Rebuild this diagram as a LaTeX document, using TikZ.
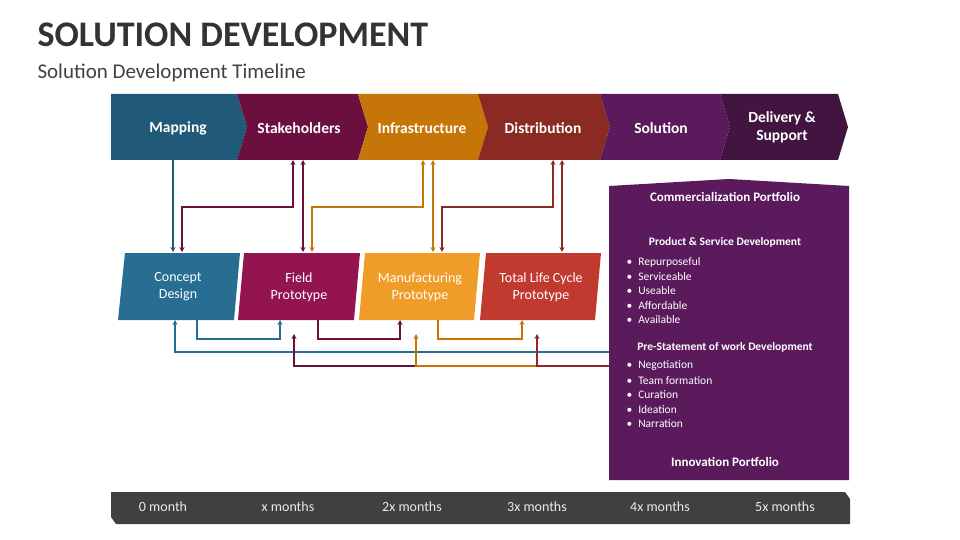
\documentclass[tikz,border=0pt]{standalone}
\usepackage{fontspec}
\setmainfont{Carlito}
\usetikzlibrary{arrows.meta}
\definecolor{cA}{HTML}{215A78}\definecolor{bA}{HTML}{286D92}
\definecolor{cB}{HTML}{6B0F3E}\definecolor{bB}{HTML}{93144F}
\definecolor{cC}{HTML}{C67608}\definecolor{bC}{HTML}{F09C28}
\definecolor{cD}{HTML}{8A2A22}\definecolor{bD}{HTML}{C03A30}
\definecolor{cE}{HTML}{5A1A5C}\definecolor{cF}{HTML}{421541}
\definecolor{bar}{HTML}{404040}
\begin{document}
\begin{tikzpicture}[x=1pt,y=-1pt,
 lbl/.style={text=white,font=\bfseries\fontsize{15.5}{18}\selectfont,align=center},
 blbl/.style={text=white,font=\fontsize{14}{17}\selectfont,align=center},
 con/.style={line width=1.4pt,-{Stealth[length=5pt,width=5pt]}},
 dcon/.style={line width=1.4pt,{Stealth[length=5pt,width=5pt]}-{Stealth[length=5pt,width=5pt]}},
 ptxt/.style={text=white,font=\bfseries\fontsize{13}{15}\selectfont},
 psub/.style={text=white,font=\bfseries\fontsize{11.5}{13}\selectfont},
 pitem/.style={text=white,font=\fontsize{11.5}{13}\selectfont,anchor=west}]
\useasboundingbox (0,0) rectangle (960,540);
\node[anchor=west,font=\bfseries\fontsize{36}{40}\selectfont,text=black!80] (title) at (34,35) {SOLUTION DEVELOPMENT};
\node[anchor=west,font=\fontsize{21}{24}\selectfont,text=black!75] (sub) at (34,73) {Solution Development Timeline};
% chevrons
\fill[cA] (111,94) -- (237,94) -- (247,127) -- (237,160) -- (111,160) -- cycle;
\fill[cB] (237,94) -- (358,94) -- (368,127) -- (358,160) -- (237,160) -- (247,127) -- cycle;
\fill[cC] (358,94) -- (478,94) -- (488,127) -- (478,160) -- (358,160) -- (368,127) -- cycle;
\fill[cD] (478,94) -- (600,94) -- (610,127) -- (600,160) -- (478,160) -- (488,127) -- cycle;
\fill[cE] (600,94) -- (720,94) -- (730,127) -- (720,160) -- (600,160) -- (610,127) -- cycle;
\fill[cF] (720,94) -- (838,94) -- (848,127) -- (838,160) -- (720,160) -- (730,127) -- cycle;
\node[lbl] (h1) at (178,128) {Mapping};
\node[lbl] (h2) at (299,128) {Stakeholders};
\node[lbl] (h3) at (422,128) {Infrastructure};
\node[lbl] (h4) at (543,128) {Distribution};
\node[lbl] (h5) at (661,128) {Solution};
\node[lbl] (h6) at (782,127) {Delivery \&\\Support};
% boxes
\fill[bA] (125,253) -- (240,253) -- (234,320) -- (118,320) -- cycle;
\fill[bB] (244,253) -- (360,253) -- (354,320) -- (238,320) -- cycle;
\fill[bC] (365,253) -- (480,253) -- (474,320) -- (359,320) -- cycle;
\fill[bD] (486,253) -- (601,253) -- (595,320) -- (480,320) -- cycle;
\node[blbl] (b1) at (178,287) {Concept\\Design};
\node[blbl] (b2) at (299,287) {Field\\Prototype};
\node[blbl] (b3) at (420,287) {Manufacturing\\Prototype};
\node[blbl] (b4) at (541,287) {Total Life Cycle\\Prototype};
% panel
\fill[cE] (609,186) -- (729,179) -- (849,186) -- (849,480) -- (609,480) -- cycle;
\node[ptxt] (p1) at (725,197) {Commercialization Portfolio};
\node[psub] (p2) at (725,242) {Product \& Service Development};
\foreach \t [count=\i] in {Repurposeful,Serviceable,Useable,Affordable,Available}
  \node[pitem] (pa\i) at (623,262+14.5*\i-14.5) {\textbullet\hspace{6pt}\t};
\node[psub] (p3) at (725,347) {Pre-Statement of work Development};
\foreach \t [count=\i] in {Negotiation,Team formation,Curation,Ideation,Narration}
  \node[pitem] (pb\i) at (623,366+14.5*\i-14.5) {\textbullet\hspace{6pt}\t};
\node[ptxt] (p4) at (725,462) {Innovation Portfolio};
% bottom bar
\fill[bar] (111,492) -- (845,492) -- (850,499) -- (850,524) -- (116,524) -- (111,517) -- cycle;
\foreach \t/\x [count=\i] in {0 month/163,x months/288,2x months/412,3x months/537,4x months/660,5x months/785}
  \node[text=white!92!black,font=\fontsize{14}{16}\selectfont] (m\i) at (\x,507) {\t};
% top connectors
\coordinate (t1) at (173,160); \coordinate (e1) at (173,252);
\draw[con,cA] (t1) -- (e1);
\coordinate (t2) at (293,160); \coordinate (e2) at (182,252);
\draw[dcon,cB] (e2) |- (237,207) -| (t2);
\coordinate (t3) at (303,160); \coordinate (e3) at (303,252);
\draw[dcon,cB] (t3) -- (e3);
\coordinate (t4) at (423,160); \coordinate (e4) at (312,252);
\draw[dcon,cC] (e4) |- (360,207) -| (t4);
\coordinate (t5) at (433,160); \coordinate (e5) at (433,252);
\draw[dcon,cC] (t5) -- (e5);
\coordinate (t6) at (553,160); \coordinate (e6) at (442,252);
\draw[dcon,cD] (e6) |- (500,207) -| (t6);
\coordinate (t7) at (562,160); \coordinate (e7) at (562,252);
\draw[dcon,cD] (t7) -- (e7);
% bottom connectors
\coordinate (s1) at (197,320); \coordinate (f1) at (280,320);
\draw[con,bA] (s1) |- (240,339) -| (f1);
\coordinate (s2) at (318,320); \coordinate (f2) at (400,320);
\draw[con,cB] (s2) |- (360,339) -| (f2);
\coordinate (s3) at (438,320); \coordinate (f3) at (522,320);
\draw[con,cC] (s3) |- (480,339) -| (f3);
\coordinate (r1) at (609,352); \coordinate (g1) at (175,320);
\draw[con,bA] (r1) -| (g1);
\coordinate (r2) at (416,366); \coordinate (g2) at (294,334);
\draw[con,cB] (r2) -| (g2);
\coordinate (r3) at (537,366); \coordinate (g3) at (416,334);
\draw[con,cC] (r3) -| (g3);
\coordinate (r4) at (609,366); \coordinate (g4) at (537,334);
\draw[con,cD] (r4) -| (g4);
\end{tikzpicture}
\end{document}
